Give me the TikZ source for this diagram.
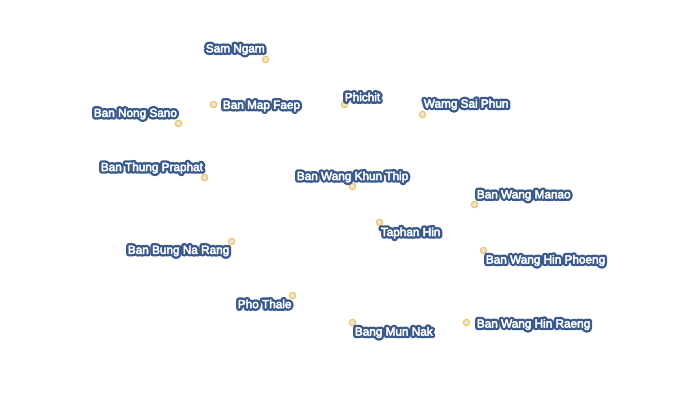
\documentclass[tikz,border=0pt]{standalone}
\usepackage{fontspec}
\setmainfont{Liberation Sans}
\newfontfamily\halofont[FakeBold=45]{Liberation Sans}
\newfontfamily\facefont[FakeBold=4]{Liberation Sans}
\definecolor{halo}{HTML}{3A5A8C}
\definecolor{ringcol}{HTML}{F5C04A}
\definecolor{dotcol}{HTML}{E4E6EA}
\newcommand{\placename}[1]{\special{pdf:code 1 j 1 J}\rlap{\halofont\textcolor{halo}{#1}}\textcolor{white}{\facefont #1}}
\tikzset{
  placedot/.style={circle,draw=ringcol,fill=dotcol,line width=0.6pt,minimum size=3.6pt,inner sep=0pt},
  placelabel/.style={inner sep=0pt,anchor=west,font=\fontsize{6.7}{8}\selectfont}
}
\begin{document}
\begin{tikzpicture}[x=0.02cm,y=-0.02cm]
\useasboundingbox (0,0) rectangle (700,410);
\node[placedot] (samngam) at (265.5,59.5) {};
\node[placedot] (mapfaep) at (213.5,104.5) {};
\node[placedot] (nongsano) at (178.5,123.5) {};
\node[placedot] (phichit) at (344.5,104.5) {};
\node[placedot] (saiphun) at (422.5,114.5) {};
\node[placedot] (thung) at (204.5,177.5) {};
\node[placedot] (khunthip) at (352.5,186.5) {};
\node[placedot] (manao) at (474.5,204.5) {};
\node[placedot] (taphan) at (379.5,222.5) {};
\node[placedot] (bung) at (231.5,241.5) {};
\node[placedot] (phoeng) at (483.5,250.5) {};
\node[placedot] (phothale) at (292.5,295.5) {};
\node[placedot] (munnak) at (352.5,322.5) {};
\node[placedot] (raeng) at (466.5,322.5) {};
\node[placelabel] (samngamL) at (205.5,49.5) {\placename{Sam Ngam}};
\node[placelabel] (mapfaepL) at (222.5,106) {\placename{Ban Map Faep}};
\node[placelabel] (nongsanoL) at (93.5,114) {\placename{Ban Nong Sano}};
\node[placelabel] (phichitL) at (344.5,97) {\placename{Phichit}};
\node[placelabel] (saiphunL) at (423.5,104.5) {\placename{Wamg Sai Phun}};
\node[placelabel] (thungL) at (100.5,168) {\placename{Ban Thung Praphat}};
\node[placelabel] (khunthipL) at (296.5,177) {\placename{Ban Wang Khun Thip}};
\node[placelabel] (manaoL) at (476.5,195.5) {\placename{Ban Wang Manao}};
\node[placelabel] (taphanL) at (380.5,233) {\placename{Taphan Hin}};
\node[placelabel] (bungL) at (127.5,251) {\placename{Ban Bung Na Rang}};
\node[placelabel] (phoengL) at (485.5,260.5) {\placename{Ban Wang Hin Phoeng}};
\node[placelabel] (phothaleL) at (237.5,304) {\placename{Pho Thale}};
\node[placelabel] (munnakL) at (354.5,332.5) {\placename{Bang Mun Nak}};
\node[placelabel] (raengL) at (476.5,324.5) {\placename{Ban Wang Hin Raeng}};
\end{tikzpicture}
\end{document}
